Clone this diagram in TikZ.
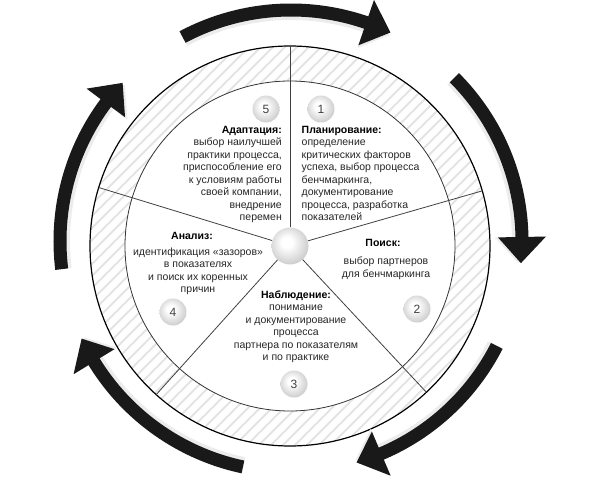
\documentclass[tikz,border=0pt]{standalone}
\usepackage{fontspec}
\setmainfont{Liberation Sans}
\tikzset{>=latex}
\usetikzlibrary{positioning}
\pgfdeclareradialshading{pearl}{\pgfpoint{-5bp}{6bp}}{color(0bp)=(white); color(7bp)=(white); color(28bp)=(gray!40); color(42bp)=(gray!62); color(50bp)=(gray!62)}

\begin{document}
\begin{tikzpicture}[x=1pt, y=1pt,
    phase/.style={inner sep=0pt, text=black!85, font=\fontsize{10.5}{12.5}\selectfont},
    phasehead/.style={inner sep=0pt, text=black, font=\fontsize{10.5}{12.5}\selectfont\bfseries},
    numball/.style={circle, minimum size=27pt, inner sep=0pt, shade, shading=pearl, text=black!75, font=\fontsize{12}{12}\selectfont},
    hub/.style={circle, minimum size=37pt, inner sep=0pt, shade, shading=pearl},
    divider/.style={draw=black!75, line width=0.8pt},
    hatch/.style={draw=gray!22, line width=2pt},
    swoosh/.style={fill=black!90},
    swooshshade/.style={fill=gray!15}]
  \useasboundingbox (-290,-236) rectangle (312,246);

  % hatched ring
  \begin{scope}[even odd rule]
    \clip (0,0) circle (200) (0,0) circle (165);
    \foreach \k in {-420,-408,...,420}
      \draw[hatch] (\k-210,-210) -- (\k+210,210);
  \end{scope}
  \draw[line width=1.2pt] (0,0) circle (200);
  \draw[line width=0.8pt, black!80] (0,0) circle (165);

  % hub and spokes
  \node[hub] (hub) at (0,0) {};
  \foreach \ang/\name in {90/d1, 16/d2, -47/d3, -132/d4, 163/d5}
    \coordinate (\name) at (\ang:200);
  \foreach \name in {d1,d2,d3,d4,d5}
    \draw[divider] (hub) -- (\name);

  % numbers
  \node[numball] (n1) at (31,137) {1};
  \node[numball] (n2) at (127,-63) {2};
  \node[numball] (n3) at (4,-138) {3};
  \node[numball] (n4) at (-117,-66) {4};
  \node[numball] (n5) at (-24,137) {5};

  % phases
  \node[phase, align=left, anchor=north west] (p1) at (11.5,120) {\textbf{\textcolor{black}{Планирование:}}\\определение\\критических факторов\\успеха, выбор процесса\\бенчмаркинга,\\документирование\\процесса, разработка\\показателей};
  \node[phasehead] (h2) at (93,3) {Поиск:};
  \node[phase, align=center, below=10pt of h2, xshift=3pt] (p2) {выбор партнеров\\для бенчмаркинга};
  \node[phase, align=center, anchor=north] (p3) at (6,-44.5) {\textbf{\textcolor{black}{Наблюдение:}}\\понимание\\и документирование\\процесса\\партнера по показателям\\и по практике};
  \node[phasehead] (h4) at (-98,10) {Анализ:};
  \node[phase, align=center, below=7.5pt of h4, xshift=6pt] (p4) {идентификация «зазоров»\\в показателях\\и поиск их коренных\\причин};
  \node[phase, align=right, anchor=north east] (p5) at (-8,120) {\textbf{\textcolor{black}{Адаптация:}}\\выбор наилучшей\\практики процесса,\\приспособление его\\к условиям работы\\своей компании,\\внедрение\\перемен};

  % cycle arrows
  \begin{scope}[shift={(1,5)}]
    \foreach \a/\b in {118/71, 45/1, -27/-67, -102/-148.5, 187/143.3} {
      \pgfmathsetmacro\tip{\b-6.5}
      \fill[swooshshade] (\a:234) arc[start angle=\a, end angle=\b, radius=234] -- (\b:251) -- (\tip:228) -- (\b:204) -- (\b:221) arc[start angle=\b, end angle=\a, radius=221] -- cycle;
      \fill[swoosh] (\a:237.5) arc[start angle=\a, end angle=\b, radius=237.5] -- (\b:255) -- (\tip:231) -- (\b:207) -- (\b:224.5) arc[start angle=\b, end angle=\a, radius=224.5] -- cycle;
    }
  \end{scope}
\end{tikzpicture}
\end{document}
